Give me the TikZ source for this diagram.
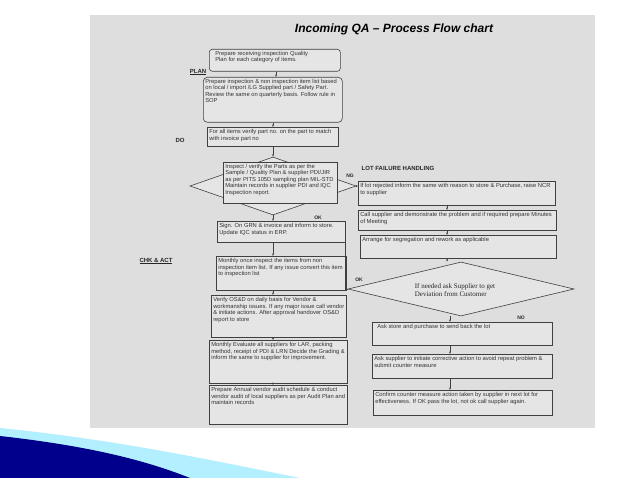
\documentclass[tikz,border=0pt]{standalone}
\usepackage{fontspec}
\setmainfont{Liberation Sans}
\newfontfamily\serifb{Liberation Serif}
\usetikzlibrary{arrows.meta,shapes.geometric}
\newcommand\bxtxt[3]{\parbox[t][#2][t]{#1}{\raggedright #3}}
\begin{document}
\begin{tikzpicture}[x=1pt,y=-1pt,
  box/.style={draw=black!75,line width=0.6pt,fill=black!10,anchor=north west,inner sep=2pt,
    font=\fontsize{5.8}{6.5}\selectfont,text=black!80},
  lbl/.style={font=\fontsize{6}{7}\selectfont\bfseries,text=black!85},
  arr/.style={-{Stealth[length=2.5pt]},draw=black!75,line width=0.5pt},
  ln/.style={draw=black!75,line width=0.6pt}]
\useasboundingbox (0,0) rectangle (638,478);
\fill[white] (0,0) rectangle (638,478);
\fill[black!13] (90,15) rectangle (595,428);
% swoosh
\fill[blue!20!cyan!30] (0,428) .. controls (120,440) and (220,462) .. (300,478) -- (0,478) -- cycle;
\fill[blue!55!black] (0,436) .. controls (80,445) and (140,458) .. (190,478) -- (0,478) -- cycle;
\node[font=\fontsize{12}{14}\selectfont\bfseries\itshape] (title) at (394,29) {Incoming QA – Process Flow chart};
% left column
\node[box,rounded corners=3pt] (b1) at (209,49) {\bxtxt{127pt}{18pt}{\hspace*{4pt}Prepare receiving inspection Quality\\\hspace*{4pt}Plan for each category of items.}};
\node[box,rounded corners=4pt] (b2) at (203,77) {\bxtxt{135pt}{41pt}{Prepare inspection \& non inspection item list based on local / import /LG Supplied part / Safety Part. Review the same on quarterly basis. Follow rule in SOP}};
\node[box] (b3) at (207,127) {\bxtxt{127pt}{15pt}{For all items verify part no. on the part to match with invoice part no}};
\node[ln,diamond,aspect=2.9,minimum width=166pt,minimum height=58pt,fill=black!10,inner sep=0pt] (d1) at (273,186) {};
\node[box] (b3i) at (223,162) {\bxtxt{110pt}{37pt}{Inspect / verify the Parts as per the Sample / Quality Plan \& supplier PDI/JIR as per PITS 105D sampling plan MIL-STD Maintain records in supplier PDI and IQC Inspection report.}};
\node[box] (b4) at (217,221) {\bxtxt{124pt}{17pt}{Sign. On GRN \& invoice and inform to store. Update IQC status in ERP.}};
\node[box] (b5) at (216,256) {\bxtxt{126pt}{30pt}{Monthly once inspect the items from non inspection item list. If any issue convert this item to inspection list}};
\node[box] (b6) at (211,295) {\bxtxt{131pt}{38pt}{Verify OS\&D on daily basis for Vendor \& workmanship issues. If any major issue call vendor \& initiate actions. After approval handover OS\&D report to store}};
\node[box] (b7) at (209,340) {\bxtxt{134pt}{39pt}{Monthly Evaluate all suppliers for LAR, packing method, receipt of PDI \& LRN Decide the Grading \& inform the same to supplier for improvement.}};
\node[box] (b8) at (209,385) {\bxtxt{134pt}{35pt}{Prepare Annual vendor audit schedule \& conduct vendor audit of local suppliers as per Audit Plan and maintain records}};
\node[lbl] (plan) at (198,72) {\underline{PLAN}};
\node[lbl] (do) at (180,140) {DO};
\node[lbl] (chk) at (156,261) {\underline{CHK \& ACT}};
\node[lbl,font=\fontsize{5}{6}\selectfont\bfseries] (ok1) at (318,218) {OK};
% right column
\node[lbl] (lfh) at (398,168) {LOT FAILURE HANDLING};
\node[lbl,font=\fontsize{5}{6}\selectfont\bfseries] (ng) at (350,176) {NG};
\node[box] (r1) at (358,181) {\bxtxt{193pt}{20pt}{If lot rejected inform the same with reason to store \& Purchase, raise NCR to supplier}};
\node[box] (r2) at (358,210) {\bxtxt{194pt}{16pt}{Call supplier and demonstrate the problem and if required prepare Minutes of Meeting}};
\node[box] (r3) at (360,235) {\bxtxt{192pt}{19pt}{Arrange for segregation and rework as applicable}};
\node[ln,diamond,aspect=4.2,minimum width=226pt,minimum height=54pt,fill=black!10,inner sep=0pt] (d2) at (461,289) {};
\node[font=\serifb\fontsize{7}{8}\selectfont,align=left,text=black!85] (d2t) at (455,290) {If needed ask Supplier to get\\Deviation from Customer};
\node[lbl,font=\fontsize{5}{6}\selectfont\bfseries] (ok2) at (359,280) {OK};
\node[lbl,font=\fontsize{5}{6}\selectfont\bfseries] (no) at (521,318) {NO};
\node[box] (r4) at (372,322) {\bxtxt{176pt}{19pt}{\hspace*{3pt}Ask store and purchase to send back the lot}};
\node[box] (r5) at (372,354) {\bxtxt{176pt}{20pt}{Ask supplier to initiate corrective action to avoid repeat problem \& submit counter measure}};
\node[box] (r6) at (373,390) {\bxtxt{175pt}{21pt}{Confirm counter measure action taken by supplier in next lot for effectiveness. If OK pass the lot, not ok call supplier again.}};
% connectors
\draw[arr] (b1.south -| 276,0) -- (b2.north -| 276,0);
\draw[arr] (b2.south -| 273,0) -- (b3.north -| 273,0);
\draw[arr] (b3.south -| 273,0) -- (d1.north);
\draw[arr] (d1.south) -- (b4.north -| 273,0);
\draw[arr] (b4.south -| 273,0) -- (b5.north -| 273,0);
\draw[arr] (b5.south -| 273,0) -- (b6.north -| 273,0);
\draw[arr] (b6.south -| 273,0) -- (b7.north -| 273,0);
\draw[arr] (b7.south -| 273,0) -- (b8.north -| 273,0);
\draw[arr] (d1.east) -- (r1.west |- d1.east);
\draw[arr] (r1.south -| 447,0) -- (r2.north -| 447,0);
\draw[arr] (r2.south -| 447,0) -- (r3.north -| 447,0);
\draw[arr] (r3.south -| 447,0) -- (d2.north -| 447,0);
\draw[arr] (d2.south -| 450,0) -- (r4.north -| 450,0);
\draw[arr] (r4.south -| 450,0) -- (r5.north -| 450,0);
\draw[arr] (r5.south -| 450,0) -- (r6.north -| 450,0);
\draw[ln] (d2.west) -- (b4.south east |- d2.west) -- (b4.south east);
\end{tikzpicture}
\end{document}
